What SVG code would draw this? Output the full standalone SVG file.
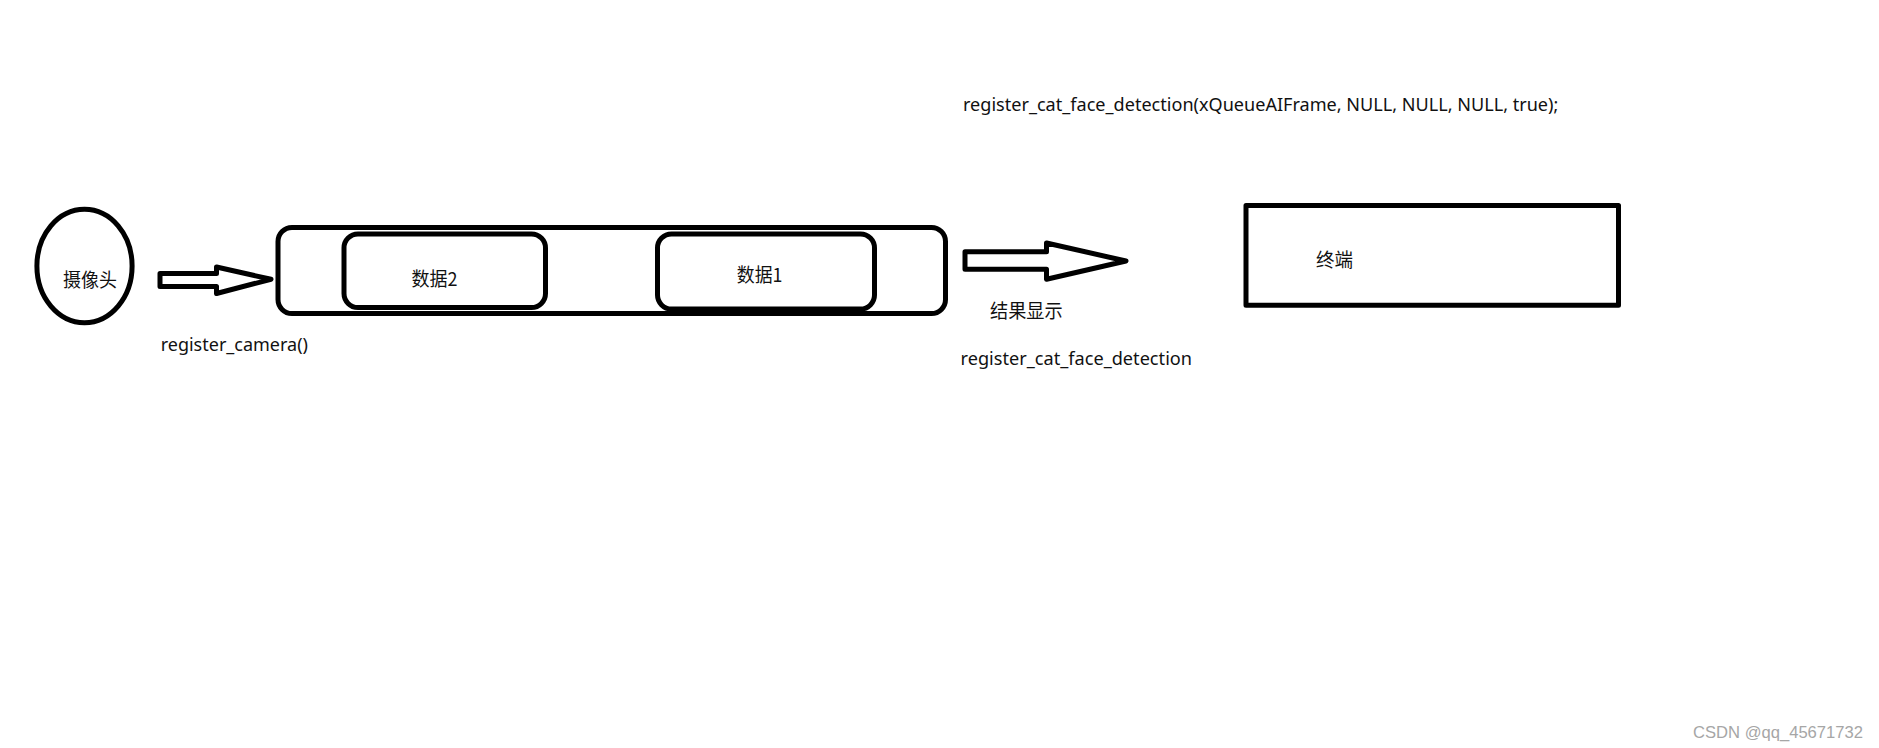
<svg xmlns="http://www.w3.org/2000/svg" width="1879" height="748" viewBox="0 0 1879 748">
<style>
.shape{fill:none;stroke:#000;stroke-width:5;stroke-linejoin:round}
.cjk{font-family:"Noto Sans CJK SC","Noto Sans",sans-serif;font-size:19px;fill:#111}
.lat{font-family:"Noto Sans","Liberation Sans",sans-serif;font-size:18px;fill:#111}
.wm{font-family:"Liberation Sans",Arial,sans-serif;font-size:16.5px;fill:#a6a6a6}
</style>
<rect width="1879" height="748" fill="#fff"/>
<g id="camera">
<ellipse class="shape" cx="84.5" cy="266" rx="47.6" ry="56.7"/>
<text class="cjk" x="63" y="287" textLength="54" lengthAdjust="spacingAndGlyphs">摄像头</text>
</g>
<g id="queue">
<rect class="shape" x="278" y="227.5" width="667.5" height="86" rx="14"/>
</g>
<g id="data2">
<rect class="shape" x="344" y="234" width="201.5" height="73.5" rx="14"/>
<text class="cjk" x="411.4" y="286" textLength="46" lengthAdjust="spacingAndGlyphs">数据2</text>
</g>
<g id="data1">
<rect class="shape" x="657.5" y="234" width="217" height="75" rx="14"/>
<text class="cjk" x="736.8" y="282" textLength="45.6" lengthAdjust="spacingAndGlyphs">数据1</text>
</g>
<g id="terminal">
<rect class="shape" x="1246" y="205.5" width="372.5" height="99.7"/>
<text class="cjk" x="1316" y="267" textLength="37" lengthAdjust="spacingAndGlyphs">终端</text>
</g>
<g id="connectors">
<polygon class="shape" points="160,273.5 216.5,273.5 216.5,267 271,279.3 216.5,293.5 216.5,286.5 160,286.5"/>
<polygon class="shape" points="965,251.8 1046.5,251.8 1046.5,243 1126,261 1046.5,279.3 1046.5,269.2 965,269.2"/>
</g>
<g id="labels">
<text class="lat" x="160.7" y="351" textLength="147.3" lengthAdjust="spacingAndGlyphs">register_camera()</text>
<text class="cjk" x="990" y="318" textLength="72.7" lengthAdjust="spacingAndGlyphs">结果显示</text>
<text class="lat" x="960.6" y="364.5" textLength="231.4" lengthAdjust="spacingAndGlyphs">register_cat_face_detection</text>
<text class="lat" x="963" y="110.5" textLength="595.3" lengthAdjust="spacingAndGlyphs">register_cat_face_detection(xQueueAIFrame, NULL, NULL, NULL, true);</text>
</g>
<text class="wm" x="1693" y="738" textLength="170" lengthAdjust="spacingAndGlyphs">CSDN @qq_45671732</text>
</svg>
